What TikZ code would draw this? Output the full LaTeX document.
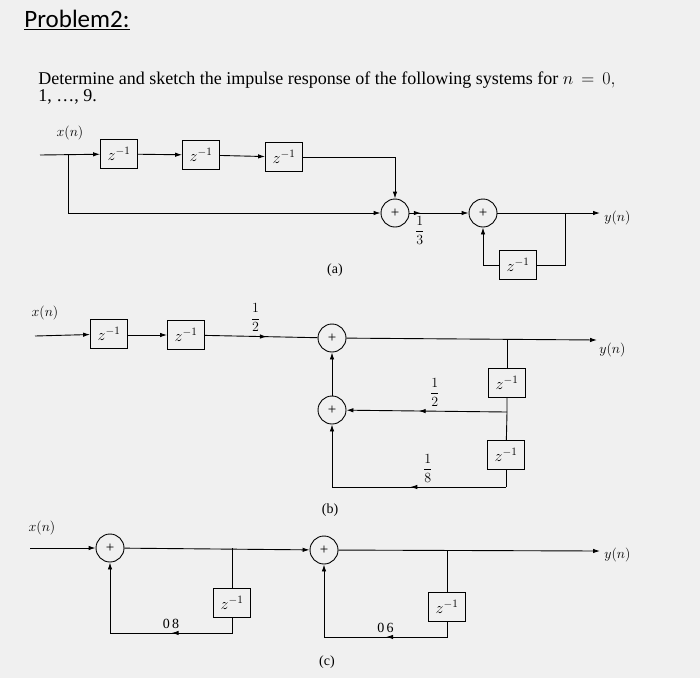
\documentclass[tikz,border=0pt]{standalone}
\usepackage{fix-cm}
\usepackage{fontspec}
\setmainfont{Liberation Serif}
\newfontfamily\titlefont{Carlito}
\usetikzlibrary{arrows.meta,decorations.markings}
\begin{document}
\begin{tikzpicture}[x=1pt,y=-1pt,line width=0.9pt,
  dbox/.style={draw,minimum width=37pt,minimum height=29pt,inner sep=0pt,font=\fontsize{16}{18}\selectfont},
  adder/.style={draw,circle,minimum size=28pt,inner sep=0pt,font=\fontsize{15}{16}\selectfont},
  arr/.style={-{Latex[length=7pt,width=4.5pt]}},
  midarr/.style={postaction={decorate},decoration={markings,mark=at position 0.55 with {\arrow{Latex[length=7pt,width=4.5pt]}}}},
  lbl/.style={font=\fontsize{14}{16}\selectfont,inner sep=1pt},
  frac/.style={font=\fontsize{14}{16}\selectfont,inner sep=1pt}]
\fill[gray!12] (0,0) rectangle (700,678);
\useasboundingbox (0,0) rectangle (700,678);
% title
\node[anchor=west,font=\titlefont\fontsize{25}{28}\selectfont,inner sep=0pt] (title) at (24,20) {\underline{Problem2:}};
\node[anchor=west,font=\fontsize{18}{20}\selectfont,inner sep=0pt] (t1) at (38,80) {Determine and sketch the impulse response of the following systems for $n\,=\,0,$};
\node[anchor=west,font=\fontsize{18}{20}\selectfont,inner sep=0pt] (t2) at (38,97) {1, \ldots, 9.};
% ---------- (a)
\coordinate (ain) at (40,155);
\node[lbl] (axl) at (70,133) {$x(n)$};
\node[dbox] (a1) at (119,154) {$z^{-1}$};
\node[dbox] (a2) at (201,155) {$z^{-1}$};
\node[dbox] (a3) at (284,157) {$z^{-1}$};
\node[adder] (aA) at (395,213) {+};
\node[adder] (aB) at (483,213) {+};
\coordinate (ab) at (68,155);
\draw[arr] (ain) -- (a1);
\draw[arr] (a1) -- (a2);
\draw[arr] (a2) -- (a3);
\draw[arr] (a3.east) -| (aA.north);
\draw[arr] (ab) |- (aA.west);
\draw[midarr] (aA) -- node[frac,below=2pt]{$\displaystyle\frac{1}{3}$} ++(35,0) coordinate (am);
\draw[arr] (am) -- (aB);
\coordinate (aout) at (600,213);
\coordinate (abr) at (565,213);
\draw[arr] (aB.east) -- (aout);
\node[lbl,anchor=west] (ayl) at (603,218) {$y(n)$};
\node[dbox] (a4) at (518,265) {$z^{-1}$};
\draw (abr) |- (a4.east);
\draw[arr] (a4.west) -| (aB.south);
\node[lbl] (alab) at (335,270) {(a)};
% ---------- (b)
\coordinate (bin) at (35,336);
\node[lbl] (bxl) at (45,313) {$x(n)$};
\node[dbox] (b1) at (109,334) {$z^{-1}$};
\node[dbox] (b2) at (186,335) {$z^{-1}$};
\node[adder] (bA) at (332,338) {+};
\node[adder] (bB) at (332,410) {+};
\draw[arr] (bin) -- (b1);
\draw[arr] (b2.west -| b1.east) -- (b2);
\draw[midarr] (b2) -- node[frac,above=3pt,pos=0.45]{$\displaystyle\frac{1}{2}$} (bA);
\coordinate (bout) at (597,340);
\coordinate (bbr) at (507,340);
\draw[arr] (bA) -- (bout);
\node[lbl,anchor=west] (byl) at (598,350) {$y(n)$};
\node[dbox] (b3) at (507,383) {$z^{-1}$};
\node[dbox] (b4) at (506,455) {$z^{-1}$};
\coordinate (bm1) at (507,412);
\coordinate (bm2) at (506,487);
\draw (bbr) -- (b3);
\draw (b3) -- (bm1) -- (b4);
\draw[arr,midarr] (bm1) -- node[frac,above=3pt,pos=0.45]{$\displaystyle\frac{1}{2}$} (bB);
\draw[arr] (bB) -- (bA);
\draw (b4) -- (bm2);
\draw[midarr] (bm2) -- node[frac,above=3pt,pos=0.45]{$\displaystyle\frac{1}{8}$} (bm2 -| bB) coordinate (bc);
\draw[arr] (bc) -- (bB);
\node[lbl] (blab) at (330,510) {(b)};
% ---------- (c)
\coordinate (cin) at (30,548);
\node[lbl] (cxl) at (42,528) {$x(n)$};
\node[adder] (cA) at (110,548) {+};
\node[adder] (cB) at (324,550) {+};
\draw[arr] (cin) -- (cA);
\draw[arr] (cA) -- (cB);
\coordinate (cb1) at (232,548);
\node[dbox] (c1) at (232,603) {$z^{-1}$};
\draw (cb1) -- (c1);
\draw[midarr] (c1.south) -- ++(0,15) coordinate (cc1) -- node[frac,above=3pt]{0\,8} (cc1 -| cA) coordinate (cd1);
\draw[arr] (cd1) -- (cA);
\coordinate (cout) at (600,551);
\draw[arr] (cB) -- (cout);
\node[lbl,anchor=west] (cyl) at (603,555) {$y(n)$};
\coordinate (cb2) at (447,551);
\node[dbox] (c2) at (447,607) {$z^{-1}$};
\draw (cb2) -- (c2);
\draw[midarr] (c2.south) -- ++(0,15) coordinate (cc2) -- node[frac,above=3pt]{0\,6} (cc2 -| cB) coordinate (cd2);
\draw[arr] (cd2) -- (cB);
\node[lbl] (clab) at (327,662) {(c)};
\end{tikzpicture}
\end{document}
